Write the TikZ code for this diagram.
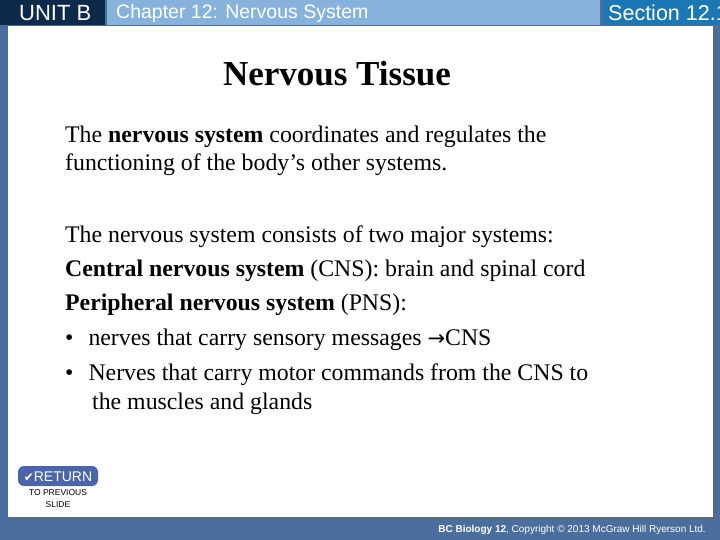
\documentclass[tikz,border=0pt]{standalone}
\usepackage{fontspec}
\setmainfont{Liberation Serif}
\newfontfamily\hsans{Liberation Sans}
\newfontfamily\djvfont{DejaVu Sans}
\definecolor{bgblue}{HTML}{4A6E9E}
\definecolor{navy}{HTML}{0E2A4A}
\definecolor{light}{HTML}{86B2DC}
\definecolor{sect}{HTML}{1B78B4}
\definecolor{btn}{HTML}{4C65A8}
\tikzset{x=1pt,y=-1pt,
 body/.style={anchor=base west,inner sep=0pt,font=\fontsize{23.8}{28}\selectfont},
 hdr/.style={anchor=base west,inner sep=0pt,font=\hsans\fontsize{19}{22}\selectfont}}
\begin{document}
\begin{tikzpicture}
\useasboundingbox (0,0) rectangle (720,540);
\fill[bgblue] (0,0) rectangle (720,540);
\fill[black!60,opacity=.6] (11,29) rectangle (716,520);
\fill[white] (8,26) rectangle (713,517);
\fill[navy] (0,0) rectangle (105,25);
\fill[light] (107,0) rectangle (600,25);
\fill[sect] (603,0) rectangle (720,25);
\node[hdr,text=white,font=\hsans\fontsize{22}{24}\selectfont] (u) at (19,21) {UNIT B};
\node[hdr,text=white,font=\hsans\fontsize{19.5}{22}\selectfont] (c) at (116,19) {Chapter 12: Nervous System};
\node[hdr,text=white,font=\hsans\fontsize{21.5}{24}\selectfont] (s) at (608,21) {Section 12.1};
\node[anchor=base,inner sep=0pt,font=\bfseries\fontsize{35}{38}\selectfont] (t) at (337,86) {Nervous Tissue};
\node[body] (l1) at (65,143) {The \textbf{nervous system} coordinates and regulates the};
\node[body] (l2) at (65,171) {functioning of the body’s other systems.};
\node[body] (l3) at (65,242) {The nervous system consists of two major systems:};
\node[body] (l4) at (65,276) {\textbf{Central nervous system} (CNS): brain and spinal cord};
\node[body] (l5) at (65,310) {\textbf{Peripheral nervous system} (PNS):};
\node[body] (l6) at (65,345) {•\hspace{15pt}nerves that carry sensory messages {\djvfont\fontsize{21}{24}\selectfont→}CNS};
\node[body] (l7) at (65,380) {•\hspace{15pt}Nerves that carry motor commands from the CNS to};
\node[body] (l8) at (92,409) {the muscles and glands};
\fill[btn,rounded corners=6pt] (18,466) rectangle (98,486);
\node[anchor=center,inner sep=0pt,text=white,font=\hsans\fontsize{14}{15}\selectfont] (r) at (58,476.5) {{\djvfont\fontsize{12}{13}\selectfont✔}RETURN};
\node[anchor=center,align=center,inner sep=0pt,font=\hsans\fontsize{8.5}{12}\selectfont] (p) at (58,499) {TO PREVIOUS\\SLIDE};
\node[anchor=base east,inner sep=0pt,text=white,font=\hsans\fontsize{10}{12}\selectfont] (cp) at (706,532) {\textbf{BC Biology 12}, Copyright © 2013 McGraw Hill Ryerson Ltd.};
\end{tikzpicture}
\end{document}
